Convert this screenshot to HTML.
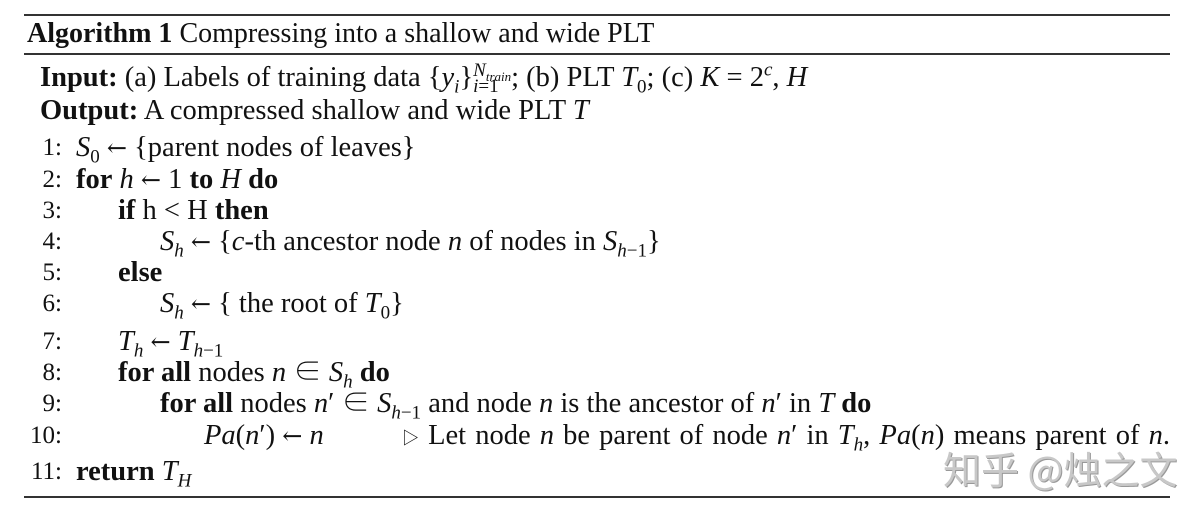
<!DOCTYPE html>
<html><head><meta charset="utf-8"><style>
body{margin:0;width:1200px;height:511px;background:#fff;position:relative;overflow:hidden;font-family:"Liberation Serif","Noto Serif CJK SC",serif;color:#111;}
.r{position:absolute;left:24px;width:1146px;background:#333;}
.l{position:absolute;font-size:28.5px;white-space:nowrap;line-height:30px;}
.n{position:absolute;font-size:25px;line-height:30px;width:62px;text-align:right;left:0;}
i{font-style:italic}
b{font-weight:bold}
sub,sup{font-size:19px;line-height:0}
.st{display:inline-block;vertical-align:-6px;line-height:16px;font-size:19px;}
.a{font-family:"DejaVu Serif",serif;font-size:24px}
.wm{position:absolute;left:943px;top:440px;font-family:"Noto Sans CJK SC",sans-serif;font-size:38px;color:#c8c8c8;white-space:nowrap;text-shadow:1px 1px 0 #999;}
</style></head><body>
<div class="r" style="top:14px;height:2px"></div>
<div class="r" style="top:53px;height:1.5px"></div>
<div class="r" style="top:496px;height:2px"></div>
<div class="l" style="left:27px;top:19px;font-size:28px"><b>Algorithm 1</b> Compressing into a shallow and wide PLT</div>
<div class="l" style="left:40px;top:63px"><b>Input:</b> (a) Labels of training data {<i>y<sub>i</sub></i>}<span class="st"><i>N<sub style="font-size:13px">train</sub></i><br><i>i</i>=1</span>; (b) PLT <i>T</i><sub>0</sub>; (c) <i>K</i> = 2<sup><i>c</i></sup>, <i>H</i></div>
<div class="l" style="left:40px;top:96px"><b>Output:</b> A compressed shallow and wide PLT <i>T</i></div>

<div class="n" style="top:133px">1:</div><div class="l" style="left:76px;top:133px"><i>S</i><sub>0</sub> <span class="a">←</span> {parent nodes of leaves}</div>
<div class="n" style="top:165px">2:</div><div class="l" style="left:76px;top:165px"><b>for</b> <i>h</i> <span class="a">←</span> 1 <b>to</b> <i>H</i> <b>do</b></div>
<div class="n" style="top:196px">3:</div><div class="l" style="left:118px;top:196px"><b>if</b> h &lt; H <b>then</b></div>
<div class="n" style="top:227px">4:</div><div class="l" style="left:160px;top:227px"><i>S<sub>h</sub></i> <span class="a">←</span> {<i>c</i>-th ancestor node <i>n</i> of nodes in <i>S</i><sub><i>h</i>−1</sub>}</div>
<div class="n" style="top:258px">5:</div><div class="l" style="left:118px;top:258px"><b>else</b></div>
<div class="n" style="top:289px">6:</div><div class="l" style="left:160px;top:289px"><i>S<sub>h</sub></i> <span class="a">←</span> { the root of <i>T</i><sub>0</sub>}</div>
<div class="n" style="top:327px">7:</div><div class="l" style="left:118px;top:327px"><i>T<sub>h</sub></i> <span class="a">←</span> <i>T</i><sub><i>h</i>−1</sub></div>
<div class="n" style="top:358px">8:</div><div class="l" style="left:118px;top:358px"><b>for all</b> nodes <i>n</i> ∈ <i>S<sub>h</sub></i> <b>do</b></div>
<div class="n" style="top:389px">9:</div><div class="l" style="left:160px;top:389px"><b>for all</b> nodes <i>n</i>′ ∈ <i>S</i><sub><i>h</i>−1</sub> and node <i>n</i> is the ancestor of <i>n</i>′ in <i>T</i> <b>do</b></div>
<div class="n" style="top:421px">10:</div><div class="l" style="left:204px;top:421px"><i>Pa</i>(<i>n</i>′) <span class="a">←</span> <i>n</i></div>
<div class="l" style="left:402px;top:421px;word-spacing:2px"><span style="font-size:17px">▷</span> Let node <i>n</i> be parent of node <i>n</i>′ in <i>T<sub>h</sub></i>, <i>Pa</i>(<i>n</i>) means parent of <i>n</i>.</div>
<div class="n" style="top:457px">11:</div><div class="l" style="left:76px;top:457px"><b>return</b> <i>T<sub>H</sub></i></div>
<div class="wm">知乎 @烛之文</div>
</body></html>
